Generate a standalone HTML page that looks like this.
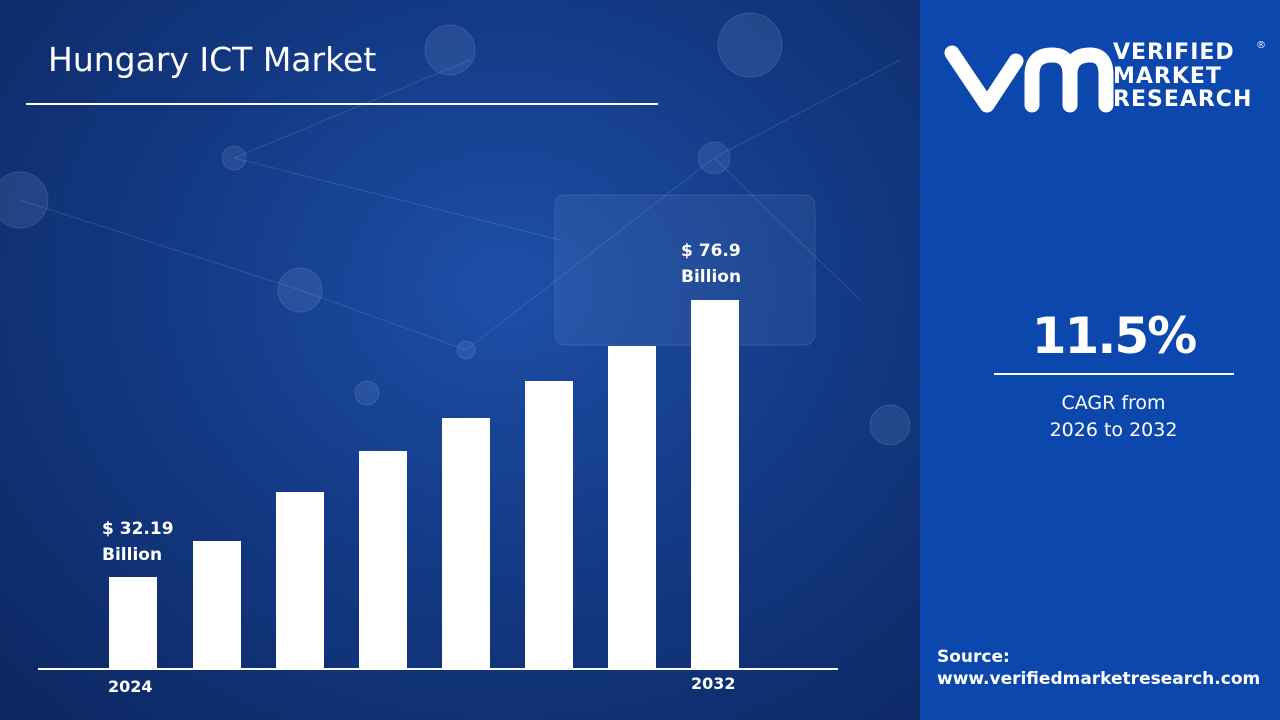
<!DOCTYPE html>
<html><head><style>
body{margin:0;width:1280px;height:720px;overflow:hidden;font-family:"DejaVu Sans","Liberation Sans",sans-serif;}
#l{position:absolute;left:0;top:0;width:920px;height:720px;background:radial-gradient(ellipse at 55% 40%,#1d4fa8 0%,#143a86 45%,#0c2660 100%);overflow:hidden}
#r{position:absolute;left:920px;top:0;width:360px;height:720px;background:#0b47ad}
.t{position:absolute;color:#fff;font-weight:bold}
.bar{position:absolute;background:#fff;width:48px;bottom:51px}
</style></head><body>
<div id="l">
<svg width="920" height="720" style="position:absolute;left:0;top:0" stroke="rgba(150,180,230,0.2)" fill="rgba(150,180,230,0.14)">
<line x1="234" y1="158" x2="470" y2="60"/><line x1="234" y1="158" x2="560" y2="240"/><line x1="300" y1="290" x2="466" y2="350"/><line x1="466" y1="350" x2="714" y2="158"/><line x1="714" y1="158" x2="900" y2="60"/><line x1="20" y1="200" x2="300" y2="290"/><line x1="714" y1="158" x2="860" y2="300"/>
<circle cx="234" cy="158" r="12"/><circle cx="300" cy="290" r="22"/><circle cx="466" cy="350" r="9"/><circle cx="714" cy="158" r="16"/><circle cx="750" cy="45" r="32"/><circle cx="450" cy="50" r="25"/><circle cx="20" cy="200" r="28"/><circle cx="367" cy="393" r="12"/><circle cx="890" cy="425" r="20"/>
<rect x="555" y="195" width="260" height="150" rx="10" fill="rgba(150,180,230,0.1)"/>
</svg>
<div class="t" style="left:48px;top:40px;font-size:33px;font-weight:normal">Hungary ICT Market</div>
<div style="position:absolute;left:26px;top:103px;width:632px;height:2px;background:#fff"></div>
<div style="position:absolute;left:38px;top:668px;width:800px;height:2px;background:#fff"></div>
<div class="bar" style="left:109px;height:92px"></div>
<div class="bar" style="left:193px;height:128px"></div>
<div class="bar" style="left:276px;height:177px"></div>
<div class="bar" style="left:359px;height:218px"></div>
<div class="bar" style="left:442px;height:251px"></div>
<div class="bar" style="left:525px;height:288px"></div>
<div class="bar" style="left:608px;height:323px"></div>
<div class="bar" style="left:691px;height:369px"></div>
<div class="t" style="left:102px;top:516px;font-size:17px;line-height:26px">$ 32.19<br>Billion</div>
<div class="t" style="left:681px;top:238px;font-size:17px;line-height:26px">$ 76.9<br>Billion</div>
<div class="t" style="left:108px;top:677px;font-size:16px">2024</div>
<div class="t" style="left:691px;top:674px;font-size:16px">2032</div>
</div>
<div id="r">
<svg width="180" height="80" style="position:absolute;left:20px;top:35px" fill="none" stroke="#fff" stroke-width="15" stroke-linecap="round" stroke-linejoin="round">
<path d="M12 18 L47 70 L76 26"/><path d="M92 70 V40 Q92 20 112 20 Q130 20 130 40 V70 M130 40 Q130 20 150 20 Q166 20 166 40 V70"/>
</svg>
<div class="t" style="left:193px;top:41px;font-size:22px;line-height:23.5px;letter-spacing:1px">VERIFIED<br>MARKET<br>RESEARCH</div>
<div class="t" style="left:336px;top:40px;font-size:10px;font-weight:normal">®</div>
<div class="t" style="left:0;width:387px;text-align:center;top:307px;font-size:50px;letter-spacing:-2px">11.5%</div>
<div style="position:absolute;left:74px;top:373px;width:240px;height:2px;background:#fff"></div>
<div class="t" style="left:0;width:387px;text-align:center;top:390px;font-size:19px;line-height:27px;font-weight:normal">CAGR from<br>2026 to 2032</div>
<div class="t" style="left:17px;top:646px;font-size:17px;line-height:22px">Source:<br>www.verifiedmarketresearch.com</div>
</div>
</body></html>
